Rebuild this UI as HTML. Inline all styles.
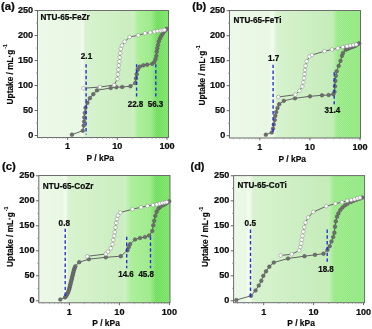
<!DOCTYPE html>
<html><head><meta charset="utf-8"><title>Uptake isotherms</title><style>
html,body{margin:0;padding:0;background:#fff}
svg{display:block}
text{font-family:"Liberation Sans",sans-serif;font-weight:bold;fill:#0c0c0c;stroke:#0c0c0c;stroke-width:0.22px}
.tk{font-size:9.1px}
.ax{font-size:9.5px}
.sup{font-size:5.2px;stroke-width:0.1px}
.pl{font-size:10.2px}
.tt{font-size:8.4px}
.vl{font-size:8.7px}
.ln{fill:none;stroke:#555;stroke-width:0.9}
.am{fill:#6e6e6e;stroke:#585858;stroke-width:0.5}
.dm{fill:#fff;stroke:#909090;stroke-width:0.55}
</style></head><body>
<svg width="372" height="329" viewBox="0 0 372 329">
<defs><linearGradient id="bga" x1="0" y1="0" x2="1" y2="0"><stop offset="0%" stop-color="#ebf8e6"/><stop offset="32.06%" stop-color="#e7f7e1"/><stop offset="34.35%" stop-color="#f1fbed"/><stop offset="36.64%" stop-color="#d5f2cc"/><stop offset="70.61%" stop-color="#c8edbd"/><stop offset="72.9%" stop-color="#ccefc2"/><stop offset="76.72%" stop-color="#a8ee96"/><stop offset="86.64%" stop-color="#9aea86"/><stop offset="91.22%" stop-color="#6ede5a"/><stop offset="99.77%" stop-color="#7ee46a"/></linearGradient><linearGradient id="bgb" x1="0" y1="0" x2="1" y2="0"><stop offset="0%" stop-color="#ebf8e6"/><stop offset="29.77%" stop-color="#e7f7e1"/><stop offset="32.82%" stop-color="#f2fcee"/><stop offset="36.26%" stop-color="#d5f2cc"/><stop offset="75.95%" stop-color="#c3ebb7"/><stop offset="78.24%" stop-color="#c3edb7"/><stop offset="82.44%" stop-color="#98ea86"/><stop offset="100%" stop-color="#92e880"/></linearGradient><linearGradient id="bgc" x1="0" y1="0" x2="1" y2="0"><stop offset="0%" stop-color="#ebf8e6"/><stop offset="18.06%" stop-color="#e7f7e1"/><stop offset="20.35%" stop-color="#f2fcee"/><stop offset="22.64%" stop-color="#d5f2cc"/><stop offset="62.65%" stop-color="#c8edbd"/><stop offset="65.7%" stop-color="#ccefc2"/><stop offset="70.27%" stop-color="#a8ee96"/><stop offset="84.76%" stop-color="#9cea88"/><stop offset="89.33%" stop-color="#70de5c"/><stop offset="100%" stop-color="#7ce468"/></linearGradient><linearGradient id="bgd" x1="0" y1="0" x2="1" y2="0"><stop offset="0%" stop-color="#e9f7e4"/><stop offset="9.08%" stop-color="#e8f7e3"/><stop offset="11.76%" stop-color="#f3fcef"/><stop offset="15.19%" stop-color="#d5f2cc"/><stop offset="69.77%" stop-color="#c3ebb7"/><stop offset="72.44%" stop-color="#c4edb8"/><stop offset="77.02%" stop-color="#98ea86"/><stop offset="100%" stop-color="#92e880"/></linearGradient><pattern id="dots" width="2" height="2" patternUnits="userSpaceOnUse"><rect x="0" y="0" width="1" height="1" fill="#fff" fill-opacity="0.10"/><rect x="1" y="1" width="1" height="1" fill="#fff" fill-opacity="0.10"/></pattern></defs>
<rect width="372" height="329" fill="#fff"/>
<g id="panel-a">
<rect x="37.5" y="10.5" width="131" height="127" fill="url(#bga)"/>
<rect x="37.5" y="10.5" width="131" height="127" fill="url(#dots)"/>
<rect x="37.5" y="10.5" width="131" height="127" fill="none" stroke="#666" stroke-width="0.95"/>
<line x1="34.6" y1="135.5" x2="37.5" y2="135.5" stroke="#555" stroke-width="0.9"/>
<text x="33.2" y="138.05" text-anchor="end" class="tk">0</text>
<line x1="34.6" y1="110.5" x2="37.5" y2="110.5" stroke="#555" stroke-width="0.9"/>
<text x="33.2" y="113.05" text-anchor="end" class="tk">50</text>
<line x1="34.6" y1="85.5" x2="37.5" y2="85.5" stroke="#555" stroke-width="0.9"/>
<text x="33.2" y="88.05" text-anchor="end" class="tk">100</text>
<line x1="34.6" y1="60.5" x2="37.5" y2="60.5" stroke="#555" stroke-width="0.9"/>
<text x="33.2" y="63.05" text-anchor="end" class="tk">150</text>
<line x1="34.6" y1="35.5" x2="37.5" y2="35.5" stroke="#555" stroke-width="0.9"/>
<text x="33.2" y="38.05" text-anchor="end" class="tk">200</text>
<line x1="34.6" y1="10.5" x2="37.5" y2="10.5" stroke="#555" stroke-width="0.9"/>
<text x="33.2" y="13.05" text-anchor="end" class="tk">250</text>
<line x1="35.9" y1="123" x2="37.5" y2="123" stroke="#888" stroke-width="0.7"/>
<line x1="35.9" y1="98" x2="37.5" y2="98" stroke="#888" stroke-width="0.7"/>
<line x1="35.9" y1="73" x2="37.5" y2="73" stroke="#888" stroke-width="0.7"/>
<line x1="35.9" y1="48" x2="37.5" y2="48" stroke="#888" stroke-width="0.7"/>
<line x1="35.9" y1="23" x2="37.5" y2="23" stroke="#888" stroke-width="0.7"/>
<line x1="41.61" y1="137.5" x2="41.61" y2="138.9" stroke="#999" stroke-width="0.7"/>
<line x1="47.82" y1="137.5" x2="47.82" y2="138.9" stroke="#999" stroke-width="0.7"/>
<line x1="52.64" y1="137.5" x2="52.64" y2="138.9" stroke="#999" stroke-width="0.7"/>
<line x1="56.57" y1="137.5" x2="56.57" y2="138.9" stroke="#999" stroke-width="0.7"/>
<line x1="59.9" y1="137.5" x2="59.9" y2="138.9" stroke="#999" stroke-width="0.7"/>
<line x1="62.78" y1="137.5" x2="62.78" y2="138.9" stroke="#999" stroke-width="0.7"/>
<line x1="65.33" y1="137.5" x2="65.33" y2="138.9" stroke="#999" stroke-width="0.7"/>
<line x1="67.6" y1="137.5" x2="67.6" y2="139.9" stroke="#555" stroke-width="0.9"/>
<text x="67.6" y="149" text-anchor="middle" class="tk">1</text>
<line x1="82.56" y1="137.5" x2="82.56" y2="138.9" stroke="#999" stroke-width="0.7"/>
<line x1="91.31" y1="137.5" x2="91.31" y2="138.9" stroke="#999" stroke-width="0.7"/>
<line x1="97.52" y1="137.5" x2="97.52" y2="138.9" stroke="#999" stroke-width="0.7"/>
<line x1="102.34" y1="137.5" x2="102.34" y2="138.9" stroke="#999" stroke-width="0.7"/>
<line x1="106.27" y1="137.5" x2="106.27" y2="138.9" stroke="#999" stroke-width="0.7"/>
<line x1="109.6" y1="137.5" x2="109.6" y2="138.9" stroke="#999" stroke-width="0.7"/>
<line x1="112.48" y1="137.5" x2="112.48" y2="138.9" stroke="#999" stroke-width="0.7"/>
<line x1="115.03" y1="137.5" x2="115.03" y2="138.9" stroke="#999" stroke-width="0.7"/>
<line x1="117.3" y1="137.5" x2="117.3" y2="139.9" stroke="#555" stroke-width="0.9"/>
<text x="117.3" y="149" text-anchor="middle" class="tk">10</text>
<line x1="132.26" y1="137.5" x2="132.26" y2="138.9" stroke="#999" stroke-width="0.7"/>
<line x1="141.01" y1="137.5" x2="141.01" y2="138.9" stroke="#999" stroke-width="0.7"/>
<line x1="147.22" y1="137.5" x2="147.22" y2="138.9" stroke="#999" stroke-width="0.7"/>
<line x1="152.04" y1="137.5" x2="152.04" y2="138.9" stroke="#999" stroke-width="0.7"/>
<line x1="155.97" y1="137.5" x2="155.97" y2="138.9" stroke="#999" stroke-width="0.7"/>
<line x1="159.3" y1="137.5" x2="159.3" y2="138.9" stroke="#999" stroke-width="0.7"/>
<line x1="162.18" y1="137.5" x2="162.18" y2="138.9" stroke="#999" stroke-width="0.7"/>
<line x1="164.73" y1="137.5" x2="164.73" y2="138.9" stroke="#999" stroke-width="0.7"/>
<line x1="167" y1="137.5" x2="167" y2="139.9" stroke="#555" stroke-width="0.9"/>
<text x="167" y="149" text-anchor="middle" class="tk">100</text>
<text x="100.3" y="161.4" text-anchor="middle" class="ax" textLength="27.5" lengthAdjust="spacingAndGlyphs">P / kPa</text>
<text transform="translate(12.6,104.4) rotate(-90)" class="ax" textLength="54.8" lengthAdjust="spacingAndGlyphs">Uptake / mL·g</text>
<text transform="translate(7.4,48.8) rotate(-90)" class="sup">-1</text>
<text x="1" y="10" class="pl" textLength="13.9" lengthAdjust="spacingAndGlyphs">(a)</text>
<text x="40.6" y="19.8" class="tt" textLength="49.2" lengthAdjust="spacingAndGlyphs">NTU-65-FeZr</text>
<polyline class="ln" points="83.3,88.3 100,87 114.2,85 117.3,79 118,74.3 118.3,69.8 118.8,65.5 119.3,61.5 119.7,57.5 120.2,53.2 120.8,49 122,45.5 124.7,41.7 129.7,37 138.3,35.3 145,33.3 150.2,32.5 154.3,31.6 157.5,31 160.6,30.6 162.7,30.2 164.5,29.9"/>
<polyline class="ln" points="71.9,134.7 82.8,130.7 83.7,125.6 84.1,121.6 84.3,117.4 84.8,112.8 85.5,107.7 87.4,102.8 89.9,98.2 93.3,94.2 97,90.3 110.7,88 116.3,87.2 122.2,87 130.5,86.2 135.2,83 136,78.3 136.7,74.2 137.7,69.7 139.7,66.7 143.3,65.3 147.2,64.7 152.2,63.8 154.3,62 155.5,59.2 156.3,55.8 156.7,51.7 157.3,48.3 158,45 158.8,41.3 160,38.3 161.3,35.8 162.7,33.7 164.3,31.3 165.6,29.9 166.8,28.8"/>
<circle cx="71.9" cy="134.7" r="1.85" class="am"/>
<circle cx="82.8" cy="130.7" r="1.85" class="am"/>
<circle cx="83.7" cy="125.6" r="1.85" class="am"/>
<circle cx="84.1" cy="121.6" r="1.85" class="am"/>
<circle cx="84.3" cy="117.4" r="1.85" class="am"/>
<circle cx="84.8" cy="112.8" r="1.85" class="am"/>
<circle cx="85.5" cy="107.7" r="1.85" class="am"/>
<circle cx="87.4" cy="102.8" r="1.85" class="am"/>
<circle cx="89.9" cy="98.2" r="1.85" class="am"/>
<circle cx="93.3" cy="94.2" r="1.85" class="am"/>
<circle cx="97" cy="90.3" r="1.85" class="am"/>
<circle cx="110.7" cy="88" r="1.85" class="am"/>
<circle cx="116.3" cy="87.2" r="1.85" class="am"/>
<circle cx="122.2" cy="87" r="1.85" class="am"/>
<circle cx="130.5" cy="86.2" r="1.85" class="am"/>
<circle cx="135.2" cy="83" r="1.85" class="am"/>
<circle cx="136" cy="78.3" r="1.85" class="am"/>
<circle cx="136.7" cy="74.2" r="1.85" class="am"/>
<circle cx="137.7" cy="69.7" r="1.85" class="am"/>
<circle cx="139.7" cy="66.7" r="1.85" class="am"/>
<circle cx="143.3" cy="65.3" r="1.85" class="am"/>
<circle cx="147.2" cy="64.7" r="1.85" class="am"/>
<circle cx="152.2" cy="63.8" r="1.85" class="am"/>
<circle cx="154.3" cy="62" r="1.85" class="am"/>
<circle cx="155.5" cy="59.2" r="1.85" class="am"/>
<circle cx="156.3" cy="55.8" r="1.85" class="am"/>
<circle cx="156.7" cy="51.7" r="1.85" class="am"/>
<circle cx="157.3" cy="48.3" r="1.85" class="am"/>
<circle cx="158" cy="45" r="1.85" class="am"/>
<circle cx="158.8" cy="41.3" r="1.85" class="am"/>
<circle cx="160" cy="38.3" r="1.85" class="am"/>
<circle cx="161.3" cy="35.8" r="1.85" class="am"/>
<circle cx="162.7" cy="33.7" r="1.85" class="am"/>
<circle cx="164.3" cy="31.3" r="1.85" class="am"/>
<circle cx="165.6" cy="29.9" r="1.85" class="am"/>
<circle cx="166.8" cy="28.8" r="1.85" class="am"/>
<circle cx="83.3" cy="88.3" r="1.85" class="dm"/>
<circle cx="100" cy="87" r="1.85" class="dm"/>
<circle cx="114.2" cy="85" r="1.85" class="dm"/>
<circle cx="117.3" cy="79" r="1.85" class="dm"/>
<circle cx="118" cy="74.3" r="1.85" class="dm"/>
<circle cx="118.3" cy="69.8" r="1.85" class="dm"/>
<circle cx="118.8" cy="65.5" r="1.85" class="dm"/>
<circle cx="119.3" cy="61.5" r="1.85" class="dm"/>
<circle cx="119.7" cy="57.5" r="1.85" class="dm"/>
<circle cx="120.2" cy="53.2" r="1.85" class="dm"/>
<circle cx="120.8" cy="49" r="1.85" class="dm"/>
<circle cx="122" cy="45.5" r="1.85" class="dm"/>
<circle cx="124.7" cy="41.7" r="1.85" class="dm"/>
<circle cx="129.7" cy="37" r="1.85" class="dm"/>
<circle cx="138.3" cy="35.3" r="1.85" class="dm"/>
<circle cx="145" cy="33.3" r="1.85" class="dm"/>
<circle cx="150.2" cy="32.5" r="1.85" class="dm"/>
<circle cx="154.3" cy="31.6" r="1.85" class="dm"/>
<circle cx="157.5" cy="31" r="1.85" class="dm"/>
<circle cx="160.6" cy="30.6" r="1.85" class="dm"/>
<circle cx="162.7" cy="30.2" r="1.85" class="dm"/>
<circle cx="164.5" cy="29.9" r="1.85" class="dm"/>
<line x1="86.1" y1="64.2" x2="86.1" y2="134.5" stroke="#2430d8" stroke-width="1.4" stroke-dasharray="3.4 2.4"/>
<line x1="136.6" y1="64.2" x2="136.6" y2="97.5" stroke="#2430d8" stroke-width="1.4" stroke-dasharray="3.4 2.4"/>
<line x1="155.8" y1="64.2" x2="155.8" y2="97.5" stroke="#2430d8" stroke-width="1.4" stroke-dasharray="3.4 2.4"/>
<text x="86.5" y="58.5" text-anchor="middle" class="vl" textLength="11.4" lengthAdjust="spacingAndGlyphs">2.1</text>
<text x="135.5" y="107.4" text-anchor="middle" class="vl" textLength="15.6" lengthAdjust="spacingAndGlyphs">22.8</text>
<text x="155.5" y="107.4" text-anchor="middle" class="vl" textLength="15.6" lengthAdjust="spacingAndGlyphs">56.3</text>
</g>
<g id="panel-b">
<rect x="229.5" y="10.5" width="131" height="127.5" fill="url(#bgb)"/>
<rect x="229.5" y="10.5" width="131" height="127.5" fill="url(#dots)"/>
<rect x="229.5" y="10.5" width="131" height="127.5" fill="none" stroke="#666" stroke-width="0.95"/>
<line x1="226.6" y1="135.7" x2="229.5" y2="135.7" stroke="#555" stroke-width="0.9"/>
<text x="225.2" y="138.25" text-anchor="end" class="tk">0</text>
<line x1="226.6" y1="110.7" x2="229.5" y2="110.7" stroke="#555" stroke-width="0.9"/>
<text x="225.2" y="113.25" text-anchor="end" class="tk">50</text>
<line x1="226.6" y1="85.7" x2="229.5" y2="85.7" stroke="#555" stroke-width="0.9"/>
<text x="225.2" y="88.25" text-anchor="end" class="tk">100</text>
<line x1="226.6" y1="60.7" x2="229.5" y2="60.7" stroke="#555" stroke-width="0.9"/>
<text x="225.2" y="63.25" text-anchor="end" class="tk">150</text>
<line x1="226.6" y1="35.7" x2="229.5" y2="35.7" stroke="#555" stroke-width="0.9"/>
<text x="225.2" y="38.25" text-anchor="end" class="tk">200</text>
<line x1="226.6" y1="10.7" x2="229.5" y2="10.7" stroke="#555" stroke-width="0.9"/>
<text x="225.2" y="13.25" text-anchor="end" class="tk">250</text>
<line x1="227.9" y1="123.2" x2="229.5" y2="123.2" stroke="#888" stroke-width="0.7"/>
<line x1="227.9" y1="98.2" x2="229.5" y2="98.2" stroke="#888" stroke-width="0.7"/>
<line x1="227.9" y1="73.2" x2="229.5" y2="73.2" stroke="#888" stroke-width="0.7"/>
<line x1="227.9" y1="48.2" x2="229.5" y2="48.2" stroke="#888" stroke-width="0.7"/>
<line x1="227.9" y1="23.2" x2="229.5" y2="23.2" stroke="#888" stroke-width="0.7"/>
<line x1="233.6" y1="138" x2="233.6" y2="139.4" stroke="#999" stroke-width="0.7"/>
<line x1="239.86" y1="138" x2="239.86" y2="139.4" stroke="#999" stroke-width="0.7"/>
<line x1="244.72" y1="138" x2="244.72" y2="139.4" stroke="#999" stroke-width="0.7"/>
<line x1="248.69" y1="138" x2="248.69" y2="139.4" stroke="#999" stroke-width="0.7"/>
<line x1="252.04" y1="138" x2="252.04" y2="139.4" stroke="#999" stroke-width="0.7"/>
<line x1="254.94" y1="138" x2="254.94" y2="139.4" stroke="#999" stroke-width="0.7"/>
<line x1="257.51" y1="138" x2="257.51" y2="139.4" stroke="#999" stroke-width="0.7"/>
<line x1="259.8" y1="138" x2="259.8" y2="140.4" stroke="#555" stroke-width="0.9"/>
<text x="259.8" y="149.7" text-anchor="middle" class="tk">1</text>
<line x1="274.88" y1="138" x2="274.88" y2="139.4" stroke="#999" stroke-width="0.7"/>
<line x1="283.7" y1="138" x2="283.7" y2="139.4" stroke="#999" stroke-width="0.7"/>
<line x1="289.96" y1="138" x2="289.96" y2="139.4" stroke="#999" stroke-width="0.7"/>
<line x1="294.82" y1="138" x2="294.82" y2="139.4" stroke="#999" stroke-width="0.7"/>
<line x1="298.79" y1="138" x2="298.79" y2="139.4" stroke="#999" stroke-width="0.7"/>
<line x1="302.14" y1="138" x2="302.14" y2="139.4" stroke="#999" stroke-width="0.7"/>
<line x1="305.04" y1="138" x2="305.04" y2="139.4" stroke="#999" stroke-width="0.7"/>
<line x1="307.61" y1="138" x2="307.61" y2="139.4" stroke="#999" stroke-width="0.7"/>
<line x1="309.9" y1="138" x2="309.9" y2="140.4" stroke="#555" stroke-width="0.9"/>
<text x="309.9" y="149.7" text-anchor="middle" class="tk">10</text>
<line x1="324.98" y1="138" x2="324.98" y2="139.4" stroke="#999" stroke-width="0.7"/>
<line x1="333.8" y1="138" x2="333.8" y2="139.4" stroke="#999" stroke-width="0.7"/>
<line x1="340.06" y1="138" x2="340.06" y2="139.4" stroke="#999" stroke-width="0.7"/>
<line x1="344.92" y1="138" x2="344.92" y2="139.4" stroke="#999" stroke-width="0.7"/>
<line x1="348.89" y1="138" x2="348.89" y2="139.4" stroke="#999" stroke-width="0.7"/>
<line x1="352.24" y1="138" x2="352.24" y2="139.4" stroke="#999" stroke-width="0.7"/>
<line x1="355.14" y1="138" x2="355.14" y2="139.4" stroke="#999" stroke-width="0.7"/>
<line x1="357.71" y1="138" x2="357.71" y2="139.4" stroke="#999" stroke-width="0.7"/>
<line x1="360" y1="138" x2="360" y2="140.4" stroke="#555" stroke-width="0.9"/>
<text x="360" y="149.7" text-anchor="middle" class="tk">100</text>
<text x="292.3" y="162" text-anchor="middle" class="ax" textLength="27.5" lengthAdjust="spacingAndGlyphs">P / kPa</text>
<text transform="translate(204.8,105.5) rotate(-90)" class="ax" textLength="54.8" lengthAdjust="spacingAndGlyphs">Uptake / mL·g</text>
<text transform="translate(199.6,49.9) rotate(-90)" class="sup">-1</text>
<text x="192.3" y="10" class="pl" textLength="13.9" lengthAdjust="spacingAndGlyphs">(b)</text>
<text x="233.6" y="23" class="tt" textLength="47.8" lengthAdjust="spacingAndGlyphs">NTU-65-FeTi</text>
<polyline class="ln" points="278.3,97 295.3,94.7 299.5,90.8 302.3,86.5 303.3,82.3 304,78.2 304.6,74 305,70 305.6,65.8 306.7,61.3 309.5,56.5 312,55 324.5,51.2 332,49.5 337.8,48.3 342.8,47 347,46.2 350.3,45.5 353.3,45 356.2,44.5"/>
<polyline class="ln" points="265.8,134.7 271.7,132.5 273,128.7 273.8,124.5 274.7,120 275.3,115.8 276.2,112 277.5,108 279.2,104.2 283.8,100.8 295,98.3 310,96.3 322,95.3 328.7,95 333.3,94.2 334.5,91.7 335,86.3 335.3,80.8 335.8,75.8 336.7,71.3 338.7,65.8 340.5,60.8 342,55.8 343,53 345.7,49.7 347.2,48.9 348.7,48.3 350.3,47.6 352,47 353.6,46.4 355.3,45.8 357.2,44.6 359.2,43.3"/>
<circle cx="265.8" cy="134.7" r="1.85" class="am"/>
<circle cx="271.7" cy="132.5" r="1.85" class="am"/>
<circle cx="273" cy="128.7" r="1.85" class="am"/>
<circle cx="273.8" cy="124.5" r="1.85" class="am"/>
<circle cx="274.7" cy="120" r="1.85" class="am"/>
<circle cx="275.3" cy="115.8" r="1.85" class="am"/>
<circle cx="276.2" cy="112" r="1.85" class="am"/>
<circle cx="277.5" cy="108" r="1.85" class="am"/>
<circle cx="279.2" cy="104.2" r="1.85" class="am"/>
<circle cx="283.8" cy="100.8" r="1.85" class="am"/>
<circle cx="295" cy="98.3" r="1.85" class="am"/>
<circle cx="310" cy="96.3" r="1.85" class="am"/>
<circle cx="322" cy="95.3" r="1.85" class="am"/>
<circle cx="328.7" cy="95" r="1.85" class="am"/>
<circle cx="333.3" cy="94.2" r="1.85" class="am"/>
<circle cx="334.5" cy="91.7" r="1.85" class="am"/>
<circle cx="335" cy="86.3" r="1.85" class="am"/>
<circle cx="335.3" cy="80.8" r="1.85" class="am"/>
<circle cx="335.8" cy="75.8" r="1.85" class="am"/>
<circle cx="336.7" cy="71.3" r="1.85" class="am"/>
<circle cx="338.7" cy="65.8" r="1.85" class="am"/>
<circle cx="340.5" cy="60.8" r="1.85" class="am"/>
<circle cx="342" cy="55.8" r="1.85" class="am"/>
<circle cx="343" cy="53" r="1.85" class="am"/>
<circle cx="345.7" cy="49.7" r="1.85" class="am"/>
<circle cx="347.2" cy="48.9" r="1.85" class="am"/>
<circle cx="348.7" cy="48.3" r="1.85" class="am"/>
<circle cx="350.3" cy="47.6" r="1.85" class="am"/>
<circle cx="352" cy="47" r="1.85" class="am"/>
<circle cx="353.6" cy="46.4" r="1.85" class="am"/>
<circle cx="355.3" cy="45.8" r="1.85" class="am"/>
<circle cx="357.2" cy="44.6" r="1.85" class="am"/>
<circle cx="359.2" cy="43.3" r="1.85" class="am"/>
<circle cx="278.3" cy="97" r="1.85" class="dm"/>
<circle cx="295.3" cy="94.7" r="1.85" class="dm"/>
<circle cx="299.5" cy="90.8" r="1.85" class="dm"/>
<circle cx="302.3" cy="86.5" r="1.85" class="dm"/>
<circle cx="303.3" cy="82.3" r="1.85" class="dm"/>
<circle cx="304" cy="78.2" r="1.85" class="dm"/>
<circle cx="304.6" cy="74" r="1.85" class="dm"/>
<circle cx="305" cy="70" r="1.85" class="dm"/>
<circle cx="305.6" cy="65.8" r="1.85" class="dm"/>
<circle cx="306.7" cy="61.3" r="1.85" class="dm"/>
<circle cx="309.5" cy="56.5" r="1.85" class="dm"/>
<circle cx="312" cy="55" r="1.85" class="dm"/>
<circle cx="324.5" cy="51.2" r="1.85" class="dm"/>
<circle cx="332" cy="49.5" r="1.85" class="dm"/>
<circle cx="337.8" cy="48.3" r="1.85" class="dm"/>
<circle cx="342.8" cy="47" r="1.85" class="dm"/>
<circle cx="347" cy="46.2" r="1.85" class="dm"/>
<circle cx="350.3" cy="45.5" r="1.85" class="dm"/>
<circle cx="353.3" cy="45" r="1.85" class="dm"/>
<circle cx="356.2" cy="44.5" r="1.85" class="dm"/>
<line x1="273.1" y1="64.7" x2="273.1" y2="134.2" stroke="#2430d8" stroke-width="1.4" stroke-dasharray="3.4 2.4"/>
<line x1="334.2" y1="72.2" x2="334.2" y2="104.2" stroke="#2430d8" stroke-width="1.4" stroke-dasharray="3.4 2.4"/>
<text x="273.6" y="61.1" text-anchor="middle" class="vl" textLength="11.4" lengthAdjust="spacingAndGlyphs">1.7</text>
<text x="332.3" y="113.1" text-anchor="middle" class="vl" textLength="15.6" lengthAdjust="spacingAndGlyphs">31.4</text>
</g>
<g id="panel-c">
<rect x="38.8" y="175.5" width="131.2" height="127.3" fill="url(#bgc)"/>
<rect x="38.8" y="175.5" width="131.2" height="127.3" fill="url(#dots)"/>
<rect x="38.8" y="175.5" width="131.2" height="127.3" fill="none" stroke="#666" stroke-width="0.95"/>
<line x1="35.9" y1="300.8" x2="38.8" y2="300.8" stroke="#555" stroke-width="0.9"/>
<text x="34.5" y="303.35" text-anchor="end" class="tk">0</text>
<line x1="35.9" y1="275.8" x2="38.8" y2="275.8" stroke="#555" stroke-width="0.9"/>
<text x="34.5" y="278.35" text-anchor="end" class="tk">50</text>
<line x1="35.9" y1="250.8" x2="38.8" y2="250.8" stroke="#555" stroke-width="0.9"/>
<text x="34.5" y="253.35" text-anchor="end" class="tk">100</text>
<line x1="35.9" y1="225.8" x2="38.8" y2="225.8" stroke="#555" stroke-width="0.9"/>
<text x="34.5" y="228.35" text-anchor="end" class="tk">150</text>
<line x1="35.9" y1="200.8" x2="38.8" y2="200.8" stroke="#555" stroke-width="0.9"/>
<text x="34.5" y="203.35" text-anchor="end" class="tk">200</text>
<line x1="35.9" y1="175.8" x2="38.8" y2="175.8" stroke="#555" stroke-width="0.9"/>
<text x="34.5" y="178.35" text-anchor="end" class="tk">250</text>
<line x1="37.2" y1="288.3" x2="38.8" y2="288.3" stroke="#888" stroke-width="0.7"/>
<line x1="37.2" y1="263.3" x2="38.8" y2="263.3" stroke="#888" stroke-width="0.7"/>
<line x1="37.2" y1="238.3" x2="38.8" y2="238.3" stroke="#888" stroke-width="0.7"/>
<line x1="37.2" y1="213.3" x2="38.8" y2="213.3" stroke="#888" stroke-width="0.7"/>
<line x1="37.2" y1="188.3" x2="38.8" y2="188.3" stroke="#888" stroke-width="0.7"/>
<line x1="43.26" y1="302.8" x2="43.26" y2="304.2" stroke="#999" stroke-width="0.7"/>
<line x1="49.5" y1="302.8" x2="49.5" y2="304.2" stroke="#999" stroke-width="0.7"/>
<line x1="54.35" y1="302.8" x2="54.35" y2="304.2" stroke="#999" stroke-width="0.7"/>
<line x1="58.31" y1="302.8" x2="58.31" y2="304.2" stroke="#999" stroke-width="0.7"/>
<line x1="61.65" y1="302.8" x2="61.65" y2="304.2" stroke="#999" stroke-width="0.7"/>
<line x1="64.55" y1="302.8" x2="64.55" y2="304.2" stroke="#999" stroke-width="0.7"/>
<line x1="67.11" y1="302.8" x2="67.11" y2="304.2" stroke="#999" stroke-width="0.7"/>
<line x1="69.4" y1="302.8" x2="69.4" y2="305.2" stroke="#555" stroke-width="0.9"/>
<text x="69.4" y="314.9" text-anchor="middle" class="tk">1</text>
<line x1="84.45" y1="302.8" x2="84.45" y2="304.2" stroke="#999" stroke-width="0.7"/>
<line x1="93.26" y1="302.8" x2="93.26" y2="304.2" stroke="#999" stroke-width="0.7"/>
<line x1="99.5" y1="302.8" x2="99.5" y2="304.2" stroke="#999" stroke-width="0.7"/>
<line x1="104.35" y1="302.8" x2="104.35" y2="304.2" stroke="#999" stroke-width="0.7"/>
<line x1="108.31" y1="302.8" x2="108.31" y2="304.2" stroke="#999" stroke-width="0.7"/>
<line x1="111.65" y1="302.8" x2="111.65" y2="304.2" stroke="#999" stroke-width="0.7"/>
<line x1="114.55" y1="302.8" x2="114.55" y2="304.2" stroke="#999" stroke-width="0.7"/>
<line x1="117.11" y1="302.8" x2="117.11" y2="304.2" stroke="#999" stroke-width="0.7"/>
<line x1="119.4" y1="302.8" x2="119.4" y2="305.2" stroke="#555" stroke-width="0.9"/>
<text x="119.4" y="314.9" text-anchor="middle" class="tk">10</text>
<line x1="134.45" y1="302.8" x2="134.45" y2="304.2" stroke="#999" stroke-width="0.7"/>
<line x1="143.26" y1="302.8" x2="143.26" y2="304.2" stroke="#999" stroke-width="0.7"/>
<line x1="149.5" y1="302.8" x2="149.5" y2="304.2" stroke="#999" stroke-width="0.7"/>
<line x1="154.35" y1="302.8" x2="154.35" y2="304.2" stroke="#999" stroke-width="0.7"/>
<line x1="158.31" y1="302.8" x2="158.31" y2="304.2" stroke="#999" stroke-width="0.7"/>
<line x1="161.65" y1="302.8" x2="161.65" y2="304.2" stroke="#999" stroke-width="0.7"/>
<line x1="164.55" y1="302.8" x2="164.55" y2="304.2" stroke="#999" stroke-width="0.7"/>
<line x1="167.11" y1="302.8" x2="167.11" y2="304.2" stroke="#999" stroke-width="0.7"/>
<line x1="169.4" y1="302.8" x2="169.4" y2="305.2" stroke="#555" stroke-width="0.9"/>
<text x="169.4" y="314.9" text-anchor="middle" class="tk">100</text>
<text x="106.1" y="325.8" text-anchor="middle" class="ax" textLength="27.5" lengthAdjust="spacingAndGlyphs">P / kPa</text>
<text transform="translate(13,266.9) rotate(-90)" class="ax" textLength="54.8" lengthAdjust="spacingAndGlyphs">Uptake / mL·g</text>
<text transform="translate(7.8,211.3) rotate(-90)" class="sup">-1</text>
<text x="2" y="169.8" class="pl" textLength="13.9" lengthAdjust="spacingAndGlyphs">(c)</text>
<text x="42.8" y="189.4" class="tt" textLength="50.6" lengthAdjust="spacingAndGlyphs">NTU-65-CoZr</text>
<polyline class="ln" points="87.2,256.3 105.8,254 108,251.7 110.8,248.3 112.5,244.2 113.3,240 114.2,235.8 114.8,232 115.5,227.5 116.2,223 117,219 118,215.5 120.3,212.5 132.5,209.2 141,207.3 147.5,206 153,205.1 156.8,204.3 159.8,203.6 162.2,202.9 164.7,202.5 166.7,202"/>
<polyline class="ln" points="60.3,299.5 65,297.5 65.85,296.25 66.7,295 67.35,293.75 68,292.5 68.6,290.85 69.2,289.2 69.6,287.5 70,285.8 70.4,284.15 70.8,282.5 71.25,280.85 71.7,279.2 72.1,277.5 72.5,275.8 72.9,274.15 73.3,272.5 73.75,270.85 74.2,269.2 74.75,267.75 75.3,266.3 79.2,262.2 88.8,259.2 105.8,257.3 120.8,256.2 127.5,250.3 128.7,247.2 130,244.2 135,239.5 140,238 145,237 149.2,235.5 152.3,231 153.3,225.3 154.2,220.8 155.3,215.8 156.7,211.7 158.6,208.5 160.6,206.6 163,205.2 165.3,204 167.3,202.6 169.2,201.3"/>
<circle cx="60.3" cy="299.5" r="1.85" class="am"/>
<circle cx="65" cy="297.5" r="1.85" class="am"/>
<circle cx="65.85" cy="296.25" r="1.85" class="am"/>
<circle cx="66.7" cy="295" r="1.85" class="am"/>
<circle cx="67.35" cy="293.75" r="1.85" class="am"/>
<circle cx="68" cy="292.5" r="1.85" class="am"/>
<circle cx="68.6" cy="290.85" r="1.85" class="am"/>
<circle cx="69.2" cy="289.2" r="1.85" class="am"/>
<circle cx="69.6" cy="287.5" r="1.85" class="am"/>
<circle cx="70" cy="285.8" r="1.85" class="am"/>
<circle cx="70.4" cy="284.15" r="1.85" class="am"/>
<circle cx="70.8" cy="282.5" r="1.85" class="am"/>
<circle cx="71.25" cy="280.85" r="1.85" class="am"/>
<circle cx="71.7" cy="279.2" r="1.85" class="am"/>
<circle cx="72.1" cy="277.5" r="1.85" class="am"/>
<circle cx="72.5" cy="275.8" r="1.85" class="am"/>
<circle cx="72.9" cy="274.15" r="1.85" class="am"/>
<circle cx="73.3" cy="272.5" r="1.85" class="am"/>
<circle cx="73.75" cy="270.85" r="1.85" class="am"/>
<circle cx="74.2" cy="269.2" r="1.85" class="am"/>
<circle cx="74.75" cy="267.75" r="1.85" class="am"/>
<circle cx="75.3" cy="266.3" r="1.85" class="am"/>
<circle cx="79.2" cy="262.2" r="1.85" class="am"/>
<circle cx="88.8" cy="259.2" r="1.85" class="am"/>
<circle cx="105.8" cy="257.3" r="1.85" class="am"/>
<circle cx="120.8" cy="256.2" r="1.85" class="am"/>
<circle cx="127.5" cy="250.3" r="1.85" class="am"/>
<circle cx="128.7" cy="247.2" r="1.85" class="am"/>
<circle cx="130" cy="244.2" r="1.85" class="am"/>
<circle cx="135" cy="239.5" r="1.85" class="am"/>
<circle cx="140" cy="238" r="1.85" class="am"/>
<circle cx="145" cy="237" r="1.85" class="am"/>
<circle cx="149.2" cy="235.5" r="1.85" class="am"/>
<circle cx="152.3" cy="231" r="1.85" class="am"/>
<circle cx="153.3" cy="225.3" r="1.85" class="am"/>
<circle cx="154.2" cy="220.8" r="1.85" class="am"/>
<circle cx="155.3" cy="215.8" r="1.85" class="am"/>
<circle cx="156.7" cy="211.7" r="1.85" class="am"/>
<circle cx="158.6" cy="208.5" r="1.85" class="am"/>
<circle cx="160.6" cy="206.6" r="1.85" class="am"/>
<circle cx="163" cy="205.2" r="1.85" class="am"/>
<circle cx="165.3" cy="204" r="1.85" class="am"/>
<circle cx="167.3" cy="202.6" r="1.85" class="am"/>
<circle cx="169.2" cy="201.3" r="1.85" class="am"/>
<circle cx="87.2" cy="256.3" r="1.85" class="dm"/>
<circle cx="105.8" cy="254" r="1.85" class="dm"/>
<circle cx="108" cy="251.7" r="1.85" class="dm"/>
<circle cx="110.8" cy="248.3" r="1.85" class="dm"/>
<circle cx="112.5" cy="244.2" r="1.85" class="dm"/>
<circle cx="113.3" cy="240" r="1.85" class="dm"/>
<circle cx="114.2" cy="235.8" r="1.85" class="dm"/>
<circle cx="114.8" cy="232" r="1.85" class="dm"/>
<circle cx="115.5" cy="227.5" r="1.85" class="dm"/>
<circle cx="116.2" cy="223" r="1.85" class="dm"/>
<circle cx="117" cy="219" r="1.85" class="dm"/>
<circle cx="118" cy="215.5" r="1.85" class="dm"/>
<circle cx="120.3" cy="212.5" r="1.85" class="dm"/>
<circle cx="132.5" cy="209.2" r="1.85" class="dm"/>
<circle cx="141" cy="207.3" r="1.85" class="dm"/>
<circle cx="147.5" cy="206" r="1.85" class="dm"/>
<circle cx="153" cy="205.1" r="1.85" class="dm"/>
<circle cx="156.8" cy="204.3" r="1.85" class="dm"/>
<circle cx="159.8" cy="203.6" r="1.85" class="dm"/>
<circle cx="162.2" cy="202.9" r="1.85" class="dm"/>
<circle cx="164.7" cy="202.5" r="1.85" class="dm"/>
<circle cx="166.7" cy="202" r="1.85" class="dm"/>
<line x1="65.2" y1="228.7" x2="65.2" y2="298.3" stroke="#2430d8" stroke-width="1.4" stroke-dasharray="3.4 2.4"/>
<line x1="126.7" y1="236.7" x2="126.7" y2="268.3" stroke="#2430d8" stroke-width="1.4" stroke-dasharray="3.4 2.4"/>
<line x1="150.5" y1="236.7" x2="150.5" y2="268.3" stroke="#2430d8" stroke-width="1.4" stroke-dasharray="3.4 2.4"/>
<text x="64.3" y="225.6" text-anchor="middle" class="vl" textLength="11.4" lengthAdjust="spacingAndGlyphs">0.8</text>
<text x="126" y="277.3" text-anchor="middle" class="vl" textLength="15.6" lengthAdjust="spacingAndGlyphs">14.6</text>
<text x="146.2" y="277.3" text-anchor="middle" class="vl" textLength="15.6" lengthAdjust="spacingAndGlyphs">45.8</text>
</g>
<g id="panel-d">
<rect x="233.6" y="175.6" width="131" height="127.1" fill="url(#bgd)"/>
<rect x="233.6" y="175.6" width="131" height="127.1" fill="url(#dots)"/>
<rect x="233.6" y="175.6" width="131" height="127.1" fill="none" stroke="#666" stroke-width="0.95"/>
<line x1="230.7" y1="300.8" x2="233.6" y2="300.8" stroke="#555" stroke-width="0.9"/>
<text x="229.3" y="303.35" text-anchor="end" class="tk">0</text>
<line x1="230.7" y1="275.8" x2="233.6" y2="275.8" stroke="#555" stroke-width="0.9"/>
<text x="229.3" y="278.35" text-anchor="end" class="tk">50</text>
<line x1="230.7" y1="250.8" x2="233.6" y2="250.8" stroke="#555" stroke-width="0.9"/>
<text x="229.3" y="253.35" text-anchor="end" class="tk">100</text>
<line x1="230.7" y1="225.8" x2="233.6" y2="225.8" stroke="#555" stroke-width="0.9"/>
<text x="229.3" y="228.35" text-anchor="end" class="tk">150</text>
<line x1="230.7" y1="200.8" x2="233.6" y2="200.8" stroke="#555" stroke-width="0.9"/>
<text x="229.3" y="203.35" text-anchor="end" class="tk">200</text>
<line x1="230.7" y1="175.8" x2="233.6" y2="175.8" stroke="#555" stroke-width="0.9"/>
<text x="229.3" y="178.35" text-anchor="end" class="tk">250</text>
<line x1="232" y1="288.3" x2="233.6" y2="288.3" stroke="#888" stroke-width="0.7"/>
<line x1="232" y1="263.3" x2="233.6" y2="263.3" stroke="#888" stroke-width="0.7"/>
<line x1="232" y1="238.3" x2="233.6" y2="238.3" stroke="#888" stroke-width="0.7"/>
<line x1="232" y1="213.3" x2="233.6" y2="213.3" stroke="#888" stroke-width="0.7"/>
<line x1="232" y1="188.3" x2="233.6" y2="188.3" stroke="#888" stroke-width="0.7"/>
<line x1="237.61" y1="302.7" x2="237.61" y2="304.1" stroke="#999" stroke-width="0.7"/>
<line x1="243.84" y1="302.7" x2="243.84" y2="304.1" stroke="#999" stroke-width="0.7"/>
<line x1="248.68" y1="302.7" x2="248.68" y2="304.1" stroke="#999" stroke-width="0.7"/>
<line x1="252.63" y1="302.7" x2="252.63" y2="304.1" stroke="#999" stroke-width="0.7"/>
<line x1="255.97" y1="302.7" x2="255.97" y2="304.1" stroke="#999" stroke-width="0.7"/>
<line x1="258.86" y1="302.7" x2="258.86" y2="304.1" stroke="#999" stroke-width="0.7"/>
<line x1="261.42" y1="302.7" x2="261.42" y2="304.1" stroke="#999" stroke-width="0.7"/>
<line x1="263.7" y1="302.7" x2="263.7" y2="305.1" stroke="#555" stroke-width="0.9"/>
<text x="263.7" y="314.9" text-anchor="middle" class="tk">1</text>
<line x1="278.72" y1="302.7" x2="278.72" y2="304.1" stroke="#999" stroke-width="0.7"/>
<line x1="287.51" y1="302.7" x2="287.51" y2="304.1" stroke="#999" stroke-width="0.7"/>
<line x1="293.74" y1="302.7" x2="293.74" y2="304.1" stroke="#999" stroke-width="0.7"/>
<line x1="298.58" y1="302.7" x2="298.58" y2="304.1" stroke="#999" stroke-width="0.7"/>
<line x1="302.53" y1="302.7" x2="302.53" y2="304.1" stroke="#999" stroke-width="0.7"/>
<line x1="305.87" y1="302.7" x2="305.87" y2="304.1" stroke="#999" stroke-width="0.7"/>
<line x1="308.76" y1="302.7" x2="308.76" y2="304.1" stroke="#999" stroke-width="0.7"/>
<line x1="311.32" y1="302.7" x2="311.32" y2="304.1" stroke="#999" stroke-width="0.7"/>
<line x1="313.6" y1="302.7" x2="313.6" y2="305.1" stroke="#555" stroke-width="0.9"/>
<text x="313.6" y="314.9" text-anchor="middle" class="tk">10</text>
<line x1="328.62" y1="302.7" x2="328.62" y2="304.1" stroke="#999" stroke-width="0.7"/>
<line x1="337.41" y1="302.7" x2="337.41" y2="304.1" stroke="#999" stroke-width="0.7"/>
<line x1="343.64" y1="302.7" x2="343.64" y2="304.1" stroke="#999" stroke-width="0.7"/>
<line x1="348.48" y1="302.7" x2="348.48" y2="304.1" stroke="#999" stroke-width="0.7"/>
<line x1="352.43" y1="302.7" x2="352.43" y2="304.1" stroke="#999" stroke-width="0.7"/>
<line x1="355.77" y1="302.7" x2="355.77" y2="304.1" stroke="#999" stroke-width="0.7"/>
<line x1="358.66" y1="302.7" x2="358.66" y2="304.1" stroke="#999" stroke-width="0.7"/>
<line x1="361.22" y1="302.7" x2="361.22" y2="304.1" stroke="#999" stroke-width="0.7"/>
<line x1="363.5" y1="302.7" x2="363.5" y2="305.1" stroke="#555" stroke-width="0.9"/>
<text x="363.5" y="314.9" text-anchor="middle" class="tk">100</text>
<text x="301.1" y="325.8" text-anchor="middle" class="ax" textLength="27.5" lengthAdjust="spacingAndGlyphs">P / kPa</text>
<text transform="translate(208.3,267.1) rotate(-90)" class="ax" textLength="54.8" lengthAdjust="spacingAndGlyphs">Uptake / mL·g</text>
<text transform="translate(203.1,211.5) rotate(-90)" class="sup">-1</text>
<text x="190.6" y="170" class="pl" textLength="13.9" lengthAdjust="spacingAndGlyphs">(d)</text>
<text x="237.6" y="187.6" class="tt" textLength="49.2" lengthAdjust="spacingAndGlyphs">NTU-65-CoTi</text>
<polyline class="ln" points="280.7,255.5 291.7,254.2 299.2,250.5 300.3,247 301.2,243.3 301.8,239.7 302.5,235.8 303.3,231.7 304.2,227.2 305.5,222.5 308.2,217.5 313.3,212 326.3,206.2 335.3,203.7 342,202.2 347.2,200.8 351.2,200 354.5,199.2 357.5,198.3 360,197.7"/>
<polyline class="ln" points="236.3,300 251,295.8 255.5,290.5 258.8,285.5 261.3,280.8 263.3,275.8 266,271.3 269.3,266.7 273.8,262.5 288,258.5 304.5,256.2 315,254.8 323.5,253.7 327.5,249.8 329.7,246.2 331.5,241.5 333.2,237 334.4,232.7 335,226.7 335.8,221.3 337,216.7 338.4,213.4 340.3,210 342.5,207.5 345,205.3 347.5,203.7 350.8,202 353.5,200.8 356.5,199.7 359.5,198.7 362.3,197.6"/>
<circle cx="236.3" cy="300" r="1.85" class="am"/>
<circle cx="251" cy="295.8" r="1.85" class="am"/>
<circle cx="255.5" cy="290.5" r="1.85" class="am"/>
<circle cx="258.8" cy="285.5" r="1.85" class="am"/>
<circle cx="261.3" cy="280.8" r="1.85" class="am"/>
<circle cx="263.3" cy="275.8" r="1.85" class="am"/>
<circle cx="266" cy="271.3" r="1.85" class="am"/>
<circle cx="269.3" cy="266.7" r="1.85" class="am"/>
<circle cx="273.8" cy="262.5" r="1.85" class="am"/>
<circle cx="288" cy="258.5" r="1.85" class="am"/>
<circle cx="304.5" cy="256.2" r="1.85" class="am"/>
<circle cx="315" cy="254.8" r="1.85" class="am"/>
<circle cx="323.5" cy="253.7" r="1.85" class="am"/>
<circle cx="327.5" cy="249.8" r="1.85" class="am"/>
<circle cx="329.7" cy="246.2" r="1.85" class="am"/>
<circle cx="331.5" cy="241.5" r="1.85" class="am"/>
<circle cx="333.2" cy="237" r="1.85" class="am"/>
<circle cx="334.4" cy="232.7" r="1.85" class="am"/>
<circle cx="335" cy="226.7" r="1.85" class="am"/>
<circle cx="335.8" cy="221.3" r="1.85" class="am"/>
<circle cx="337" cy="216.7" r="1.85" class="am"/>
<circle cx="338.4" cy="213.4" r="1.85" class="am"/>
<circle cx="340.3" cy="210" r="1.85" class="am"/>
<circle cx="342.5" cy="207.5" r="1.85" class="am"/>
<circle cx="345" cy="205.3" r="1.85" class="am"/>
<circle cx="347.5" cy="203.7" r="1.85" class="am"/>
<circle cx="350.8" cy="202" r="1.85" class="am"/>
<circle cx="353.5" cy="200.8" r="1.85" class="am"/>
<circle cx="356.5" cy="199.7" r="1.85" class="am"/>
<circle cx="359.5" cy="198.7" r="1.85" class="am"/>
<circle cx="362.3" cy="197.6" r="1.85" class="am"/>
<circle cx="280.7" cy="255.5" r="1.85" class="dm"/>
<circle cx="291.7" cy="254.2" r="1.85" class="dm"/>
<circle cx="299.2" cy="250.5" r="1.85" class="dm"/>
<circle cx="300.3" cy="247" r="1.85" class="dm"/>
<circle cx="301.2" cy="243.3" r="1.85" class="dm"/>
<circle cx="301.8" cy="239.7" r="1.85" class="dm"/>
<circle cx="302.5" cy="235.8" r="1.85" class="dm"/>
<circle cx="303.3" cy="231.7" r="1.85" class="dm"/>
<circle cx="304.2" cy="227.2" r="1.85" class="dm"/>
<circle cx="305.5" cy="222.5" r="1.85" class="dm"/>
<circle cx="308.2" cy="217.5" r="1.85" class="dm"/>
<circle cx="313.3" cy="212" r="1.85" class="dm"/>
<circle cx="326.3" cy="206.2" r="1.85" class="dm"/>
<circle cx="335.3" cy="203.7" r="1.85" class="dm"/>
<circle cx="342" cy="202.2" r="1.85" class="dm"/>
<circle cx="347.2" cy="200.8" r="1.85" class="dm"/>
<circle cx="351.2" cy="200" r="1.85" class="dm"/>
<circle cx="354.5" cy="199.2" r="1.85" class="dm"/>
<circle cx="357.5" cy="198.3" r="1.85" class="dm"/>
<circle cx="360" cy="197.7" r="1.85" class="dm"/>
<line x1="250.5" y1="229.5" x2="250.5" y2="298.3" stroke="#2430d8" stroke-width="1.4" stroke-dasharray="3.4 2.4"/>
<line x1="327.2" y1="229.5" x2="327.2" y2="261.7" stroke="#2430d8" stroke-width="1.4" stroke-dasharray="3.4 2.4"/>
<text x="250.3" y="225.6" text-anchor="middle" class="vl" textLength="11.4" lengthAdjust="spacingAndGlyphs">0.5</text>
<text x="326" y="272.3" text-anchor="middle" class="vl" textLength="15.6" lengthAdjust="spacingAndGlyphs">18.8</text>
</g>
</svg>
</body></html>
